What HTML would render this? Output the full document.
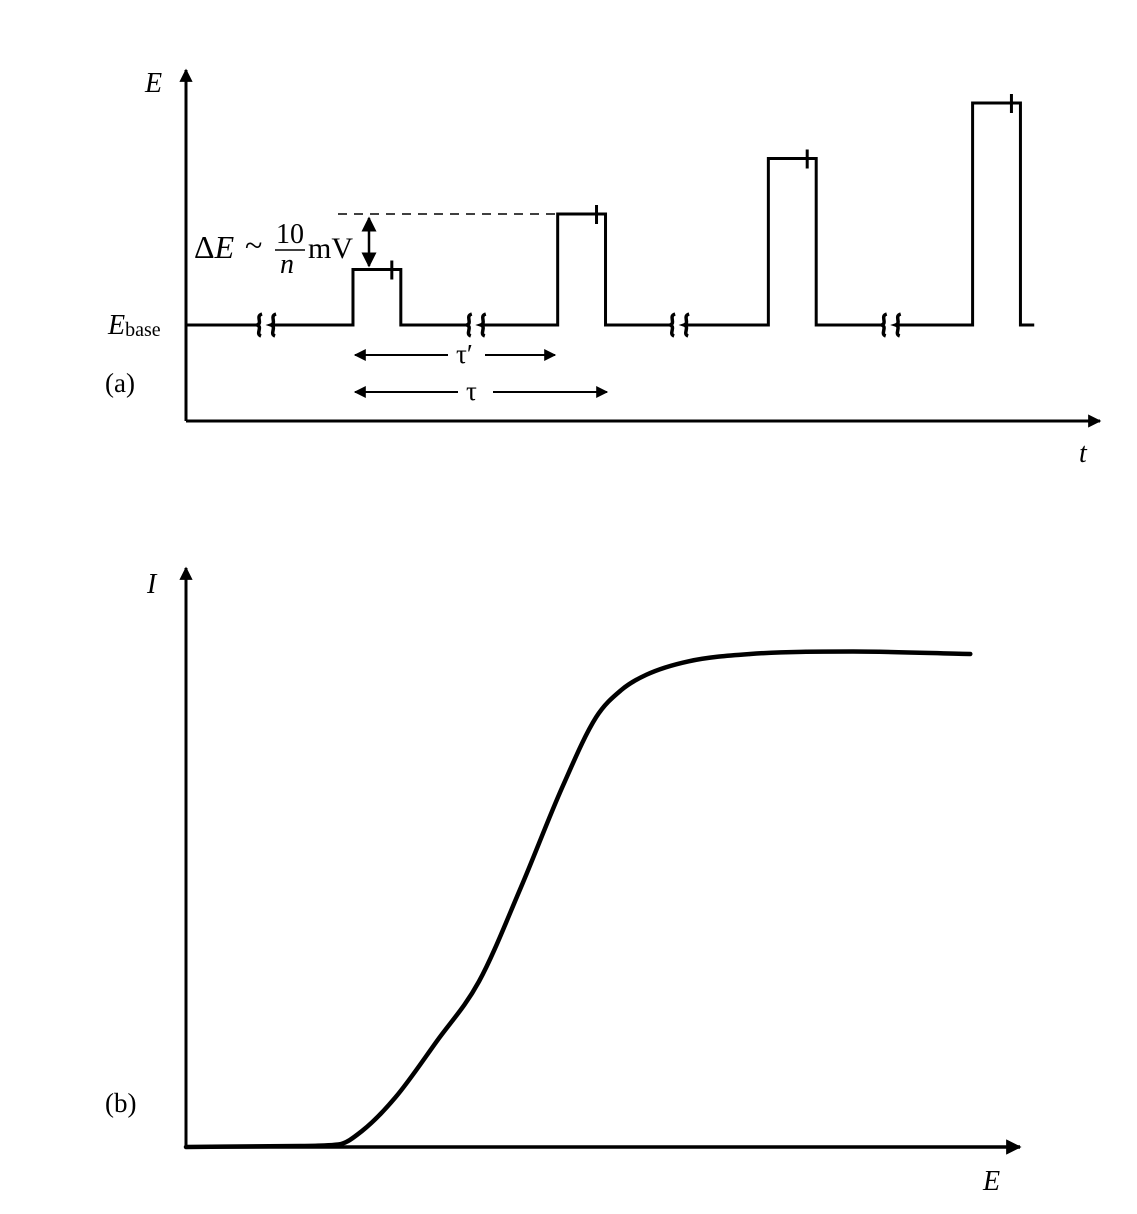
<!DOCTYPE html>
<html><head><meta charset="utf-8"><style>
html,body{margin:0;padding:0;background:#fff;}
svg{display:block;}
text{font-family:"Liberation Serif",serif;fill:#000;}
</style></head><body>
<svg id="fig" width="1137" height="1214" viewBox="0 0 1137 1214">
<defs>
<marker id="ah" viewBox="0 0 10 10" refX="9" refY="5" markerWidth="5" markerHeight="4.4" orient="auto-start-reverse" markerUnits="strokeWidth"><path d="M0,0 L10,5 L0,10 Z" fill="#000"/></marker>
<marker id="ahs" viewBox="0 0 10 10" refX="9" refY="5" markerWidth="9" markerHeight="6" orient="auto-start-reverse" markerUnits="strokeWidth"><path d="M0,0 L10,5 L0,10 Z" fill="#000"/></marker>
</defs>
<line x1="186" y1="421" x2="186" y2="70" stroke="#000" stroke-width="3" marker-end="url(#ah)"/>
<line x1="186" y1="421" x2="1100" y2="421" stroke="#000" stroke-width="3" marker-end="url(#ah)"/>
<text x="145" y="92" font-size="28" font-style="italic">E</text>
<text x="1079" y="462" font-size="28" font-style="italic">t</text>
<text x="108" y="334" font-size="28"><tspan font-style="italic">E</tspan><tspan font-size="20" dy="2">base</tspan></text>
<text x="105" y="392" font-size="27">(a)</text>
<g id="pulses"></g>
<line x1="338" y1="214" x2="557" y2="214" stroke="#000" stroke-width="1.5" stroke-dasharray="9,7"/>
<line x1="369" y1="218" x2="369" y2="266" stroke="#000" stroke-width="2.5" marker-start="url(#ahs)" marker-end="url(#ahs)"/>
<text x="194" y="258" font-size="32">Δ<tspan font-style="italic">E</tspan></text>
<text x="245" y="256" font-size="32">~</text>
<text x="276" y="243" font-size="28">10</text>
<line x1="275" y1="250" x2="305" y2="250" stroke="#000" stroke-width="1.5"/>
<text x="280" y="273" font-size="28" font-style="italic">n</text>
<text x="308" y="258" font-size="30">mV</text>
<line x1="448" y1="355" x2="355" y2="355" stroke="#000" stroke-width="2" marker-end="url(#ahs)"/>
<line x1="485" y1="355" x2="555" y2="355" stroke="#000" stroke-width="2" marker-end="url(#ahs)"/>
<text x="456" y="363" font-size="27">τ′</text>
<line x1="458" y1="392" x2="355" y2="392" stroke="#000" stroke-width="2" marker-end="url(#ahs)"/>
<line x1="493" y1="392" x2="607" y2="392" stroke="#000" stroke-width="2" marker-end="url(#ahs)"/>
<text x="466" y="400" font-size="27">τ</text>
<line x1="186" y1="1147" x2="186" y2="568" stroke="#000" stroke-width="3" marker-end="url(#ah)"/>
<line x1="186" y1="1147" x2="1020" y2="1147" stroke="#000" stroke-width="3.5" marker-end="url(#ah)"/>
<text x="147" y="593" font-size="28" font-style="italic">I</text>
<text x="983" y="1190" font-size="28" font-style="italic">E</text>
<text x="105" y="1112" font-size="27">(b)</text>
<path id="curve" fill="none" stroke="#000" stroke-width="4.5" stroke-linecap="round" stroke-linejoin="round"/>
</svg>
<script>
// Panel a data: time in axis units (0..100), levels in multiples of ΔE
const pulseStarts = [18.15, 40.4, 63.3, 85.5];
const pulseLevels = [1, 2, 3, 4];
const pulseWidth = 5.2;
const breakTimes = [8.7, 31.5, 53.6, 76.6];
const traceEnd = 92.2;
// Panel b data: E (0..100) and I (0..100)
const curveE = [0, 13.6, 18.2, 21.0, 25.0, 30.0, 35.0, 40.0, 45.0, 49.0, 52.0, 55.0, 60.0, 67.4, 79.7, 93.7];
const curveI = [0, 0.2, 0.5, 3.2, 10.0, 21.5, 33.5, 52.5, 73.0, 87.0, 92.5, 95.6, 98.3, 99.8, 100.3, 99.8];

const NS = "http://www.w3.org/2000/svg";
const tx = t => 186 + t * 9.2;
const ey = l => 325 - l * 55.5;
const bx = e => 186 + e * 8.37;
const by = i => 1147 - i * 4.94;

const g = document.getElementById('pulses');
let d = "M" + tx(0) + "," + ey(0);
const gaps = breakTimes.map(b => [tx(b) - 8, tx(b) + 8]);
let events = [];
pulseStarts.forEach((s, k) => events.push({x: tx(s), type: 'p', k}));
gaps.forEach(gp => events.push({x: gp[0], type: 'b', gp}));
events.sort((a, b) => a.x - b.x);
events.forEach(ev => {
  if (ev.type === 'b') {
    d += " L" + ev.gp[0] + "," + ey(0) + " M" + ev.gp[1] + "," + ey(0);
  } else {
    const x0 = ev.x, x1 = tx(pulseStarts[ev.k] + pulseWidth), yt = ey(pulseLevels[ev.k]);
    d += " L" + x0 + "," + ey(0) + " L" + x0 + "," + yt + " L" + x1 + "," + yt + " L" + x1 + "," + ey(0);
  }
});
d += " L" + tx(traceEnd) + "," + ey(0);
const trace = document.createElementNS(NS, 'path');
trace.setAttribute('d', d);
trace.setAttribute('fill', 'none');
trace.setAttribute('stroke', '#000');
trace.setAttribute('stroke-width', '3');


g.appendChild(trace);
gaps.forEach(gp => {
  [gp[0] + 1, gp[1] - 1].forEach(x => {
    const p = document.createElementNS(NS, 'path');
    const y = ey(0);
    p.setAttribute('d', `M${x+3},${y-11} C${x-4},${y-9} ${x+4},${y-2} ${x-2},${y} C${x+4},${y+2} ${x-4},${y+9} ${x+2},${y+11}`);
    p.setAttribute('fill', 'none');
    p.setAttribute('stroke', '#000');
    p.setAttribute('stroke-width', '3.5');
    
    
    g.appendChild(p);
  });
});
pulseStarts.forEach((s, k) => {
  const x = tx(s + pulseWidth) - 9, yt = ey(pulseLevels[k]);
  const l = document.createElementNS(NS, 'line');
  l.setAttribute('x1', x); l.setAttribute('x2', x);
  l.setAttribute('y1', yt - 9); l.setAttribute('y2', yt + 10);
  l.setAttribute('stroke', '#000');
  l.setAttribute('stroke-width', '3');
  
  
  g.appendChild(l);
});
// monotone cubic (Fritsch–Carlson) through data points
const X = curveE.map(bx), Y = curveI.map(by);
const n = X.length;
const dl = [], m = [];
for (let i = 0; i < n - 1; i++) dl.push((Y[i+1] - Y[i]) / (X[i+1] - X[i]));
m.push(dl[0]);
for (let i = 1; i < n - 1; i++) m.push(dl[i-1] * dl[i] <= 0 ? 0 : (dl[i-1] + dl[i]) / 2);
m.push(dl[n-2]);
for (let i = 0; i < n - 1; i++) {
  if (dl[i] === 0) { m[i] = 0; m[i+1] = 0; continue; }
  const a = m[i] / dl[i], b = m[i+1] / dl[i], s = a*a + b*b;
  if (s > 9) { const t = 3 / Math.sqrt(s); m[i] = t*a*dl[i]; m[i+1] = t*b*dl[i]; }
}
let cd = "M" + X[0] + "," + Y[0];
for (let i = 0; i < n - 1; i++) {
  const h = (X[i+1] - X[i]) / 3;
  cd += ` C${X[i]+h},${Y[i]+m[i]*h} ${X[i+1]-h},${Y[i+1]-m[i+1]*h} ${X[i+1]},${Y[i+1]}`;
}
document.getElementById('curve').setAttribute('d', cd);
</script>
</body></html>
